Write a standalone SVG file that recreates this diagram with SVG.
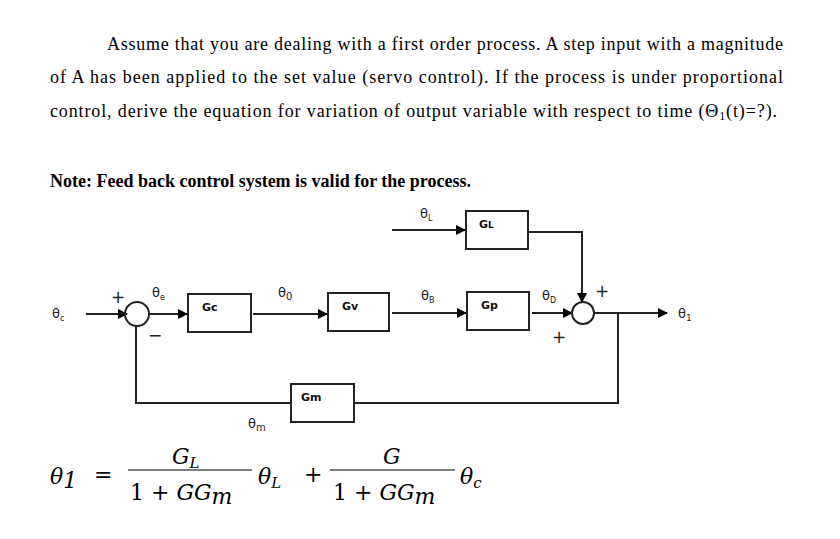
<svg xmlns="http://www.w3.org/2000/svg" width="840" height="539" viewBox="0 0 840 539">
<style>
.p{font-family:"Liberation Serif",serif;font-size:18px;fill:#000}
.b{font-weight:bold}
.l{font-family:"DejaVu Sans",sans-serif;font-size:13px;fill:#222}
.s{font-size:8px}
.bl{font-family:"DejaVu Sans",sans-serif;font-size:11px;font-weight:bold;fill:#111}
.w{stroke:#222;stroke-width:2;fill:none}
.box{stroke:#222;stroke-width:2;fill:#fff}
.m{font-family:"DejaVu Serif",serif;font-style:italic;font-size:22px;fill:#000}
.mn{font-family:"DejaVu Serif",serif;font-size:22px;fill:#000}
</style>
<defs><marker id="a" markerWidth="10" markerHeight="10" refX="9" refY="5" orient="auto" markerUnits="userSpaceOnUse"><path d="M0,0L10,5L0,10z" fill="#000"/></marker></defs>
<rect width="840" height="539" fill="#fff"/>
<text class="p" x="107" y="50" textLength="676">Assume that you are dealing with a first order process. A step input with a magnitude</text>
<text class="p" x="50" y="83" textLength="733">of A has been applied to the set value (servo control). If the process is under proportional</text>
<text class="p" x="50" y="117" textLength="727">control, derive the equation for variation of output variable with respect to time (Θ<tspan font-size="12" dy="3">1</tspan><tspan dy="-3">(t)=?).</tspan></text>
<text class="p b" x="50" y="187">Note: Feed back control system is valid for the process.</text>
<g id="connectors">
<path class="w" d="M86,314H127" marker-end="url(#a)"/>
<path class="w" d="M150,314H187" marker-end="url(#a)"/>
<path class="w" d="M253,314H327" marker-end="url(#a)"/>
<path class="w" d="M392,313H466" marker-end="url(#a)"/>
<path class="w" d="M532,313H572" marker-end="url(#a)"/>
<path class="w" d="M595,313H667" marker-end="url(#a)"/>
<path class="w" d="M392,230H465" marker-end="url(#a)"/>
<path class="w" d="M528,232H582V302" marker-end="url(#a)"/>
<path class="w" d="M618,313V403H354M291,403H136V326"/>
</g>
<g id="sum1"><circle class="w" cx="137" cy="314" r="12"/></g>
<g id="sum2"><circle class="w" cx="583" cy="313" r="11"/></g>
<g id="Gc"><rect class="box" x="188" y="294" width="63" height="38"/><text class="bl" x="202" y="311">Gc</text></g>
<g id="Gv"><rect class="box" x="328" y="293" width="61" height="38"/><text class="bl" x="342" y="310">Gv</text></g>
<g id="Gp"><rect class="box" x="467" y="292" width="62" height="38"/><text class="bl" x="481" y="309">Gp</text></g>
<g id="GL"><rect class="box" x="466" y="211" width="62" height="38"/><text class="bl" x="479" y="228">G<tspan font-size="9">L</tspan></text></g>
<g id="Gm"><rect class="box" x="291" y="384" width="63" height="38"/><text class="bl" x="301" y="401">Gm</text></g>
<g id="labels" class="l">
<text x="52" y="318">θ<tspan class="s" dy="3">c</tspan></text>
<text x="152" y="297">θ<tspan class="s" dy="3">e</tspan></text>
<text x="278" y="297">θ<tspan font-size="10" dy="3">0</tspan></text>
<text x="421" y="300">θ<tspan class="s" dy="3">B</tspan></text>
<text x="420" y="218">θ<tspan class="s" dy="3">L</tspan></text>
<text x="542" y="300">θ<tspan class="s" dy="3">D</tspan></text>
<text x="678" y="318">θ<tspan font-size="9" dy="3">1</tspan></text>
<text x="248" y="428">θ<tspan font-size="10" dy="3">m</tspan></text>
<text x="111" y="303" font-size="17">+</text>
<text x="148" y="341" font-size="17">−</text>
<text x="595" y="297" font-size="17">+</text>
<text x="552" y="343" font-size="17">+</text>
</g>
<g id="equation">
<text class="m" x="50" y="484">θ<tspan class="mn" font-size="15" dy="4">1</tspan></text>
<text class="mn" x="94" y="482">=</text>
<text class="m" x="172" y="464">G<tspan font-size="15" dy="4">L</tspan></text>
<line x1="128" y1="470" x2="252" y2="470" stroke="#000" stroke-width="1.2"/>
<text class="mn" x="130" y="500">1 + <tspan class="m">GG</tspan><tspan class="m" font-size="15" dy="4">m</tspan></text>
<text class="m" x="258" y="484">θ<tspan font-size="15" dy="4">L</tspan></text>
<text class="mn" x="304" y="482">+</text>
<text class="m" x="383" y="464">G</text>
<line x1="330" y1="470" x2="455" y2="470" stroke="#000" stroke-width="1.2"/>
<text class="mn" x="333" y="500">1 + <tspan class="m">GG</tspan><tspan class="m" font-size="15" dy="4">m</tspan></text>
<text class="m" x="460" y="484">θ<tspan font-size="15" dy="4">c</tspan></text>
</g>
</svg>
